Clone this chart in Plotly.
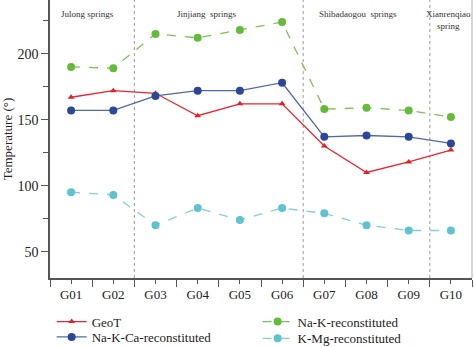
import plotly.graph_objects as go

wells = ["G01", "G02", "G03", "G04", "G05", "G06", "G07", "G08", "G09", "G10"]
geot = [167, 172, 170, 153, 162, 162, 130, 110, 118, 127]
na_k_ca = [157, 157, 168, 172, 172, 178, 137, 138, 137, 132]
na_k = [190, 189, 215, 212, 218, 224, 158, 159, 157, 152]
k_mg = [95, 93, 70, 83, 74, 83, 79, 70, 66, 66]

groups = ["Julong springs", "Jinjiang  springs", "Shibadaogou  springs", "Xianrenqiao<br>spring"]
group_pos = [0.4, 3.2, 6.8, 8.95]
separators = [1.5, 5.5, 8.5]

x = list(range(len(wells)))
serif = "Liberation Serif"

fig = go.Figure()
fig.add_trace(go.Scatter(
    x=x, y=geot, name="GeoT", mode="lines+markers",
    line=dict(color="#e8262d", width=1.3),
    marker=dict(symbol="triangle-up", size=6, color="#e0202a"),
    legend="legend"))
fig.add_trace(go.Scatter(
    x=x, y=na_k_ca, name="Na-K-Ca-reconstituted", mode="lines+markers",
    line=dict(color="#4d68ad", width=1.3),
    marker=dict(symbol="circle", size=8, color="#2b4797"),
    legend="legend2"))
fig.add_trace(go.Scatter(
    x=x, y=na_k, name="Na-K-reconstituted", mode="lines+markers",
    line=dict(color="#7cc25a", width=1.3, dash="dash"),
    marker=dict(symbol="circle", size=8, color="#64bb3a"),
    legend="legend3"))
fig.add_trace(go.Scatter(
    x=x, y=k_mg, name="K-Mg-reconstituted", mode="lines+markers",
    line=dict(color="#7fd0da", width=1.3, dash="dash"),
    marker=dict(symbol="circle", size=8, color="#5cc3cf"),
    legend="legend4"))

for s in separators:
    fig.add_shape(type="line", xref="x", yref="paper", x0=s, x1=s, y0=0, y1=1,
                  line=dict(color="#aaaaaa", width=1.2, dash="dot"), layer="below")

fig.add_shape(type="line", xref="paper", yref="paper", x0=1, x1=1, y0=0, y1=1,
              line=dict(color="#c8c8c8", width=1.5))

for g, p in zip(groups, group_pos):
    fig.add_annotation(x=p, y=1, xref="x", yref="paper", yanchor="top",
                       yshift=-7, text=g, showarrow=False,
                       font=dict(family=serif, size=9, color="#333333"),
                       align="center")

fig.update_xaxes(
    range=[-0.5, 9.5], tickvals=x, ticktext=wells,
    ticks="outside", ticklen=4, tickcolor="#555555", tickwidth=1,
    minor=dict(tick0=-0.5, dtick=1, ticks="outside", ticklen=7,
               tickcolor="#555555", tickwidth=1.2),
    showline=True, linecolor="#555555", linewidth=1.5,
    showgrid=False, zeroline=False,
    tickfont=dict(family=serif, size=13, color="#222222"))
fig.update_yaxes(
    range=[30, 240.7], tickvals=[50, 100, 150, 200],
    ticks="outside", ticklen=7, tickcolor="#555555", tickwidth=1.2,
    minor=dict(tickvals=[75, 125, 175, 225], ticks="outside", ticklen=5,
               tickcolor="#555555", tickwidth=1),
    showline=True, linecolor="#555555", linewidth=1.5,
    showgrid=False, zeroline=False,
    title=dict(text="Temperature (°)", standoff=6,
               font=dict(family=serif, size=13, color="#222222")),
    tickfont=dict(family=serif, size=14, color="#222222"))

legend_common = dict(
    orientation="v", xanchor="left", yanchor="middle",
    bgcolor="rgba(0,0,0,0)", tracegroupgap=0, itemwidth=30,
    font=dict(family=serif, size=13, color="#222222"))

fig.update_layout(
    width=474, height=347,
    margin=dict(l=50, r=2, t=0, b=69, autoexpand=False),
    paper_bgcolor="white", plot_bgcolor="white",
    showlegend=True,
    legend=dict(x=0.004, y=-0.157, **legend_common),
    legend2=dict(x=0.004, y=-0.212, **legend_common),
    legend3=dict(x=0.492, y=-0.157, **legend_common),
    legend4=dict(x=0.492, y=-0.217, **legend_common),
)

fig.write_html("out.html")
